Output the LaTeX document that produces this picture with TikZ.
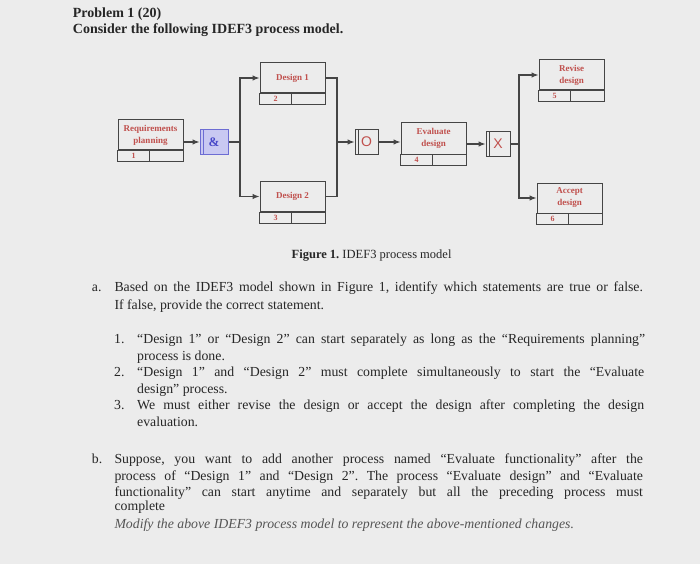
\documentclass[tikz,border=0pt]{standalone}
\usepackage{fontspec}
\setmainfont{Liberation Serif}
\newfontfamily\arialfont{Liberation Sans}
\usetikzlibrary{arrows.meta,calc}
\frenchspacing
\definecolor{bg}{HTML}{ECECEC}
\definecolor{ink}{HTML}{262626}
\definecolor{boxred}{HTML}{C0504D}
\definecolor{linec}{HTML}{454545}
\definecolor{ampfill}{HTML}{C9C9F2}
\definecolor{ampblue}{HTML}{4848C8}
\definecolor{itgray}{HTML}{555555}
\newcommand\uobstrip[2]{%
  \draw[line width=1pt, draw=linec] (#1.south west) rectangle ($(#1.south east)+(0,11)$);
  \draw[line width=1pt, draw=linec] ($(#1.south west)+(32,0)$) -- ++(0,11);
  \node[font=\fontsize{8}{9}\selectfont\bfseries, text=boxred, inner sep=0pt] (#1num) at ($(#1.south west)+(16,5.5)$) {#2};
}
\newcommand\jline[1]{%
  \draw[line width=0.8pt, draw=linec] ($(#1.north west)+(4,0)$) -- ($(#1.south west)+(4,0)$);
}
\begin{document}
\begin{tikzpicture}[x=1pt,y=-1pt,
  conn/.style={draw=linec, line width=1.1pt},
  arr/.style={conn,-{Latex[length=7pt,width=5.5pt]}},
  uob/.style={draw=linec, line width=1pt, minimum width=65pt, minimum height=30pt, inner sep=0pt, align=center, font=\fontsize{9}{12}\selectfont\bfseries, text=boxred},
  jbox/.style={draw=linec, line width=1pt, minimum width=24pt, minimum height=24pt, inner sep=0pt},
  body/.style={anchor=base west, inner sep=0pt, font=\fontsize{13.8}{15}\selectfont, text=ink},
  title/.style={anchor=base west, inner sep=0pt, font=\fontsize{14}{15}\selectfont\bfseries, text=ink},
]
\fill[bg] (0,0) rectangle (700,564);
\useasboundingbox (0,0) rectangle (700,564);

% title
\node[title] (tt1) at (72.7,17.3) {Problem 1 (20)};
\node[title] (tt2) at (72.7,33.3) {Consider the following IDEF3 process model.};

% diagram
\node[uob] (req) at (150.5,135) {Requirements\\planning};
\uobstrip{req}{1}
\node[jbox, fill=ampfill, draw=ampblue!80, minimum width=28pt, font=\bfseries\fontsize{13}{14}\selectfont, text=ampblue] (amp) at (214,142) {\&};
\draw[line width=0.8pt, draw=ampblue!80] ($(amp.north west)+(4,0)$) -- ($(amp.south west)+(4,0)$);
\coordinate (j1) at (240,142);
\node[uob] (d1) at (292.5,78) {Design 1};
\uobstrip{d1}{2}
\node[uob] (d2) at (292.5,196.5) {Design 2};
\uobstrip{d2}{3}
\coordinate (j2) at (337,142);
\node[jbox, minimum width=23pt, font=\arialfont\fontsize{14}{15}\selectfont, text=boxred] (o) at (366.5,142) {O};
\jline{o}
\node[uob, minimum height=31pt] (ev) at (433.5,138.5) {Evaluate\\design};
\uobstrip{ev}{4}
\node[jbox, font=\arialfont\fontsize{14}{15}\selectfont, text=boxred] (xj) at (498,144) {X};
\jline{xj}
\coordinate (j3) at (519,144);
\node[uob] (rev) at (571.5,75) {Revise\\design};
\uobstrip{rev}{5}
\node[uob] (acc) at (569.5,198) {Accept\\design};
\uobstrip{acc}{6}

\draw[arr] (req.east |- amp.west) -- (amp.west);
\draw[conn] (amp.east) -- (j1);
\draw[arr] (j1) |- (d1.west);
\draw[arr] (j1) |- (d2.west);
\draw[conn] (d1.east) -| (j2);
\draw[conn] (d2.east) -| (j2);
\draw[arr] (j2) -- (o.west);
\draw[arr] (o.east) -- (ev.west |- o.east);
\draw[arr] (ev.east |- xj.west) -- (xj.west);
\draw[conn] (xj.east) -- (j3);
\draw[arr] (j3) |- (rev.west);
\draw[arr] (j3) |- (acc.west);

% caption
\node[body, anchor=base east, font=\fontsize{12.5}{15}\selectfont] (cap) at (451.7,258.3) {\textbf{Figure 1.} IDEF3 process model};

% part a
\node[body] (la) at (91.7,291.7) {a.};
\node[body] (a1) at (114.3,291.7) {\makebox[528.5pt][s]{Based on the IDEF3 model shown in Figure 1, identify which statements are true or false.}};
\node[body] (a2) at (114.3,309.3) {If false, provide the correct statement.};
\node[body] (n1) at (114,343.3) {1.};
\node[body] (s1a) at (137,343.3) {\makebox[508pt][s]{“Design 1” or “Design 2” can start separately as long as the “Requirements planning”}};
\node[body] (s1b) at (137,360.7) {process is done.};
\node[body] (n2) at (114,376.5) {2.};
\node[body] (s2a) at (137,376.5) {\makebox[507pt][s]{“Design 1” and “Design 2” must complete simultaneously to start the “Evaluate}};
\node[body] (s2b) at (137,393.3) {design” process.};
\node[body] (n3) at (114,409.5) {3.};
\node[body] (s3a) at (137,409.5) {\makebox[507pt][s]{We must either revise the design or accept the design after completing the design}};
\node[body] (s3b) at (137,426.7) {evaluation.};

% part b
\node[body] (lb) at (91.7,463.3) {b.};
\node[body] (b1) at (114.3,463.3) {\makebox[528.5pt][s]{Suppose, you want to add another process named “Evaluate functionality” after the}};
\node[body] (b2) at (114.3,480.7) {\makebox[528.5pt][s]{process of “Design 1” and “Design 2”. The process “Evaluate design” and “Evaluate}};
\node[body] (b3) at (114.3,496) {\makebox[528.5pt][s]{functionality” can start anytime and separately but all the preceding process must}};
\node[body] (b4) at (114.3,510.7) {complete};
\node[body, text=itgray] (b5) at (114.3,528) {\itshape Modify the above IDEF3 process model to represent the above-mentioned changes.};
\end{tikzpicture}
\end{document}
